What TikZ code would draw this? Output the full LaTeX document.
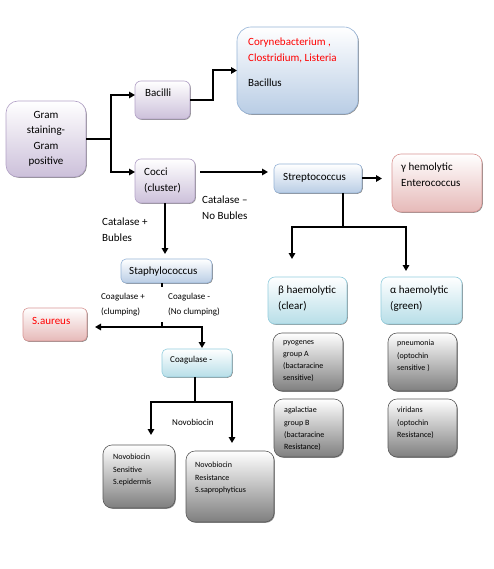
\documentclass[tikz,border=0pt]{standalone}
\usepackage{fontspec}
\setmainfont{Carlito}
\usetikzlibrary{arrows.meta,calc,shadows}
\definecolor{purpF}{HTML}{CCC0DA}
\definecolor{purpB}{HTML}{B3A2C7}
\definecolor{blueF}{HTML}{B9CDE5}
\definecolor{blueB}{HTML}{95B3D7}
\definecolor{redF}{HTML}{E6B9B8}
\definecolor{redB}{HTML}{D99694}
\definecolor{cyanF}{HTML}{B7DEE8}
\definecolor{cyanB}{HTML}{93CDDD}
\definecolor{grayF}{HTML}{7F7F7F}
\definecolor{grayB}{HTML}{595959}
\definecolor{txtred}{HTML}{FF0000}
\tikzset{
  box/.style={draw, line width=0.6pt, inner sep=0pt, outer sep=0pt, anchor=north west,
    drop shadow={shadow xshift=0.8pt, shadow yshift=-0.8pt, opacity=0.45, fill=black}},
  pbox/.style={box, draw=purpB, top color=white, bottom color=purpF},
  bbox/.style={box, draw=blueB, top color=white, bottom color=blueF},
  rbox/.style={box, draw=redB, top color=white, bottom color=redF},
  cbox/.style={box, draw=cyanB, top color=white, bottom color=cyanF},
  gbox/.style={box, draw=grayB, top color=white, bottom color=grayF, rounded corners=9pt},
  txt/.style={anchor=north west, inner sep=0pt, align=left, font=\fontsize{11}{15.5}\selectfont},
  stxt/.style={anchor=north west, inner sep=0pt, align=left, font=\fontsize{9}{15}\selectfont},
  ttxt/.style={anchor=north west, inner sep=0pt, align=left, font=\fontsize{8}{12.3}\selectfont},
  conn/.style={line width=2pt, draw=black},
  arr/.style={conn, -{Triangle[length=6pt,width=6.5pt]}}
}
\begin{document}
\begin{tikzpicture}[x=1pt,y=-1pt]
\useasboundingbox[fill=white] (0,0) rectangle (494,569);

% boxes
\node[pbox, rounded corners=12pt, minimum width=80pt, minimum height=76pt] (gram) at (6,101) {};
\node[pbox, rounded corners=6pt, minimum width=55pt, minimum height=38pt] (bac) at (135,81) {};
\node[pbox, rounded corners=6pt, minimum width=60pt, minimum height=44pt] (cocci) at (135,159) {};
\node[bbox, rounded corners=14pt, minimum width=121pt, minimum height=87pt] (cory) at (237,27) {};
\node[bbox, rounded corners=5pt, minimum width=88pt, minimum height=29pt] (strep) at (274,164) {};
\node[rbox, rounded corners=9pt, minimum width=90pt, minimum height=58pt] (gamma) at (392,154) {};
\node[bbox, rounded corners=5pt, minimum width=91pt, minimum height=24pt] (staph) at (121,259) {};
\node[rbox, rounded corners=5pt, minimum width=64pt, minimum height=33pt] (saur) at (23,308) {};
\node[cbox, rounded corners=5pt, minimum width=70pt, minimum height=28pt] (coag) at (162,349) {};
\node[cbox, rounded corners=7pt, minimum width=79pt, minimum height=47pt] (beta) at (268,277) {};
\node[cbox, rounded corners=7pt, minimum width=81pt, minimum height=47pt] (alpha) at (381,277) {};
\node[gbox, minimum width=70pt, minimum height=58pt] (pyo) at (273,333) {};
\node[gbox, minimum width=69pt, minimum height=58pt] (pneu) at (388,333) {};
\node[gbox, minimum width=69pt, minimum height=58pt] (agal) at (274,399) {};
\node[gbox, minimum width=69pt, minimum height=58pt] (viri) at (388,399) {};
\node[gbox, minimum width=72pt, minimum height=63pt] (nsens) at (103,445) {};
\node[gbox, minimum width=88pt, minimum height=71pt] (nres) at (186,451) {};

% texts
\node[txt, align=center, anchor=north] (gramT) at (46,111) {Gram\\staining-\\Gram\\positive};
\node[txt] (bacT) at (145,89) {Bacilli};
\node[txt] (cocciT) at (144,168) {Cocci\\(cluster)};
\node[txt, font=\fontsize{11}{16}\selectfont] (coryT) at (248,38) {\textcolor{txtred}{Corynebacterium ,}\\\textcolor{txtred}{Clostridium, Listeria}\\[9pt]Bacillus};
\node[txt] (strepT) at (283,173) {Streptococcus};
\node[txt] (gammaT) at (401,163) {γ hemolytic\\Enterococcus};
\node[txt] (staphT) at (129,267) {Staphylococcus};
\node[txt, text=txtred] (saurT) at (32,317) {S.aureus};
\node[stxt] (coagT) at (170,356) {Coagulase -};
\node[txt] (betaT) at (278,286) {β haemolytic\\(clear)};
\node[txt] (alphaT) at (390,286) {α haemolytic\\(green)};
\node[ttxt] (pyoT) at (283,340) {pyogenes\\group A\\(bactaracine\\sensitive)};
\node[ttxt] (pneuT) at (397,340) {pneumonia\\(optochin\\sensitive )};
\node[ttxt] (agalT) at (284,407) {agalactiae\\group B\\(bactaracine\\Resistance)};
\node[ttxt] (viriT) at (397,407) {viridans\\(optochin\\Resistance)};
\node[ttxt] (nsensT) at (113,454) {Novobiocin\\Sensitive\\S.epidermis};
\node[ttxt] (nresT) at (195,462) {Novobiocin\\Resistance\\S.saprophyticus};

% edge labels
\node[txt] (catneg) at (202,196) {Catalase –\\No Bubles};
\node[txt] (catpos) at (102,218) {Catalase +\\Bubles};
\node[stxt] (coagpos) at (101,293) {Coagulase +\\(clumping)};
\node[stxt] (coagneg) at (168,293) {Coagulase -\\(No clumping)};
\node[stxt] (novo) at (172,419) {Novobiocin};

% junctions and free ends
\coordinate (j1) at (111,139);
\coordinate (j2) at (343,227);
\coordinate (j3) at (162,327);
\coordinate (j4) at (195,402);
\coordinate (bEnd) at (292,259);
\coordinate (aEnd) at (406,271);
\coordinate (sEnd) at (151,435);
\coordinate (rEnd) at (232,443);

% connectors
\draw[conn] (gram.east) -- (j1);
\draw[arr] (j1) |- ([yshift=5pt]bac.west);
\draw[arr] (j1) |- ([yshift=9pt]cocci.west);
\draw[arr] (bac.east) -- ++(23,0) |- (cory.west);
\draw[arr] ([xshift=5pt,yshift=9pt]cocci.east) -- ([xshift=-6pt,yshift=6.5pt]strep.west);
\draw[arr] (strep.east) -- ($(strep.east -| gamma.west)+(-10,0)$);
\draw[conn] ($(strep.south east)+(-19,0)$) -- (j2);
\draw[arr] (j2) -| (bEnd);
\draw[arr] (j2) -| (aEnd);
\draw[arr] (cocci.south) -- ($(cocci.south |- staph.north)+(0,-5)$);
\draw[conn] ($(staph.south)+(-4.5,0)$) -- ++(0,4);
\draw[conn] ($(j3)+(0,-5)$) -- (j3);
\draw[arr] (j3) -- ($(j3 -| saur.east)+(8,0)$);
\draw[arr] (j3) -| ($(coag.north)+(5,-1)$);
\draw[conn] ($(coag.south)+(-2,0)$) -- (j4);
\draw[arr] (j4) -| (sEnd);
\draw[arr] (j4) -| (rEnd);
\end{tikzpicture}
\end{document}
